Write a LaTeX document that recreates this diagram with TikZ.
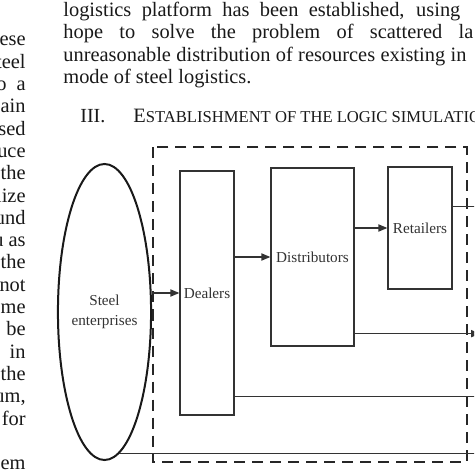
\documentclass[tikz,border=0pt]{standalone}
\usepackage{fontspec}
\setmainfont{Liberation Serif}
\usetikzlibrary{shapes.geometric,arrows.meta}

\newcommand{\bodyfont}{\fontsize{10.2}{11.2}\selectfont}
\newcommand{\diagfont}{\fontsize{7.6}{10}\selectfont}

\tikzset{
  txt/.style={inner sep=0, anchor=base west, font=\bodyfont, text=black!90},
  col/.style={inner sep=0, anchor=base east, font=\bodyfont, text=black!90},
  box/.style={draw=black!80, line width=0.65pt, inner sep=0, font=\diagfont, text=black!80},
  link/.style={draw=black!80, line width=0.65pt},
  arr/.style={link, -{Triangle[length=4.5pt,width=3.6pt]}},
  frame/.style={draw=black!85, line width=1pt, dash pattern=on 5.5pt off 3.5pt}
}

\begin{document}
\begin{tikzpicture}[x=0.5pt,y=-0.5pt]
  \clip (0,0) rectangle (474,474);
  \fill[white] (0,0) rectangle (474,474);

  % text of the page round the figure
  \node[txt] (p1) at (63,16.5) {\makebox[198.5pt][s]{logistics platform has been established, using}};
  \node[txt] (p2) at (63,38.8) {\makebox[205pt][s]{hope to solve the problem of scattered la}};
  \node[txt] (p3) at (63,61.1) {\makebox[201.5pt][s]{unreasonable distribution of resources existing in}};
  \node[txt] (p4) at (63,83.4) {mode of steel logistics.};

  \node[txt, font=\fontsize{10}{12}\selectfont] (secnum) at (80,123) {III.};
  \node[txt, font=\fontsize{10.2}{12}\selectfont] (sectitle) at (133,123)
    {E{\fontsize{8.3}{10}\selectfont STABLISHMENT OF THE LOGIC SIMULATIO}};

  \node[col] (c1) at (26,46) {ese};
  \node[col] (c2) at (26,68.3) {teel};
  \node[col] (c3) at (26,90.6) {o\hspace{5pt}a};
  \node[col] (c4) at (26,112.9) {ain};
  \node[col] (c5) at (26,135.2) {sed};
  \node[col] (c6) at (26,157.5) {uce};
  \node[col] (c7) at (26,179.8) {the};
  \node[col] (c8) at (26,202.1) {lize};
  \node[col] (c9) at (26,224.4) {und};
  \node[col] (c10) at (26,246.7) {u as};
  \node[col] (c11) at (26,269) {the};
  \node[col] (c12) at (26,291.3) {not};
  \node[col] (c13) at (26,313.6) {me};
  \node[col] (c14) at (26,335.9) {be};
  \node[col] (c15) at (26,358.2) {in};
  \node[col] (c16) at (26,380.5) {the};
  \node[col] (c17) at (26,402.8) {um,};
  \node[col] (c18) at (26,425.1) {for};
  \node[col] (c19) at (26,469.7) {em};

  % the figure
  \draw[frame] (152.7,147.5) rectangle (467,462);

  \node[ellipse, draw=black!90, line width=1pt, fill=white, inner sep=0,
        minimum width=37.5pt, minimum height=148pt, align=center,
        font=\diagfont, text=black!80] (steel) at (104.5,312) {Steel\\enterprises};
  \node[box, minimum width=27pt, minimum height=122pt] (dealers) at (207,293) {Dealers};
  \node[box, minimum width=41.5pt, minimum height=89pt] (distributors) at (312.5,257) {Distributors};
  \node[box, minimum width=32pt, minimum height=61pt] (retailers) at (420,228) {Retailers};

  \coordinate (edge) at (480,0);

  \draw[arr] (steel.east |- dealers.west) -- (dealers.west);
  \draw[arr] (dealers.east |- distributors.west) -- (distributors.west);
  \draw[arr] (distributors.east |- retailers.west) -- (retailers.west);

  \draw[link] ([yshift=-20pt]retailers.north east) coordinate (r1) -- (r1 -| edge);
  \draw[arr] ([yshift=6.5pt]distributors.south east) coordinate (d1) -- (d1 -| edge);
  \draw[link] ([yshift=9.5pt]dealers.south east) coordinate (e1) -- (e1 -| edge);
  \draw[link] (steel.-84) -- (steel.-84 -| edge);
\end{tikzpicture}
\end{document}
